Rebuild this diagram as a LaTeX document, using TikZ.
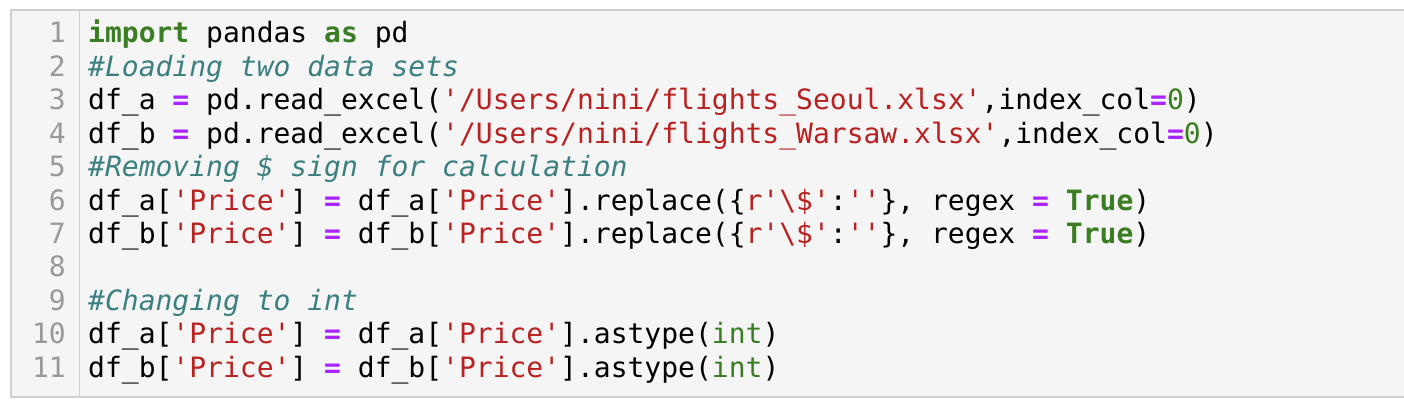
\documentclass[tikz,border=0pt]{standalone}
\usepackage{fontspec}
\setmonofont{DejaVu Sans Mono}
\definecolor{bg}{HTML}{F5F5F5}
\definecolor{bd}{HTML}{CFCFCF}
\definecolor{kw}{HTML}{3A7D22}
\definecolor{cm}{HTML}{3B7F7F}
\definecolor{st}{HTML}{BA2121}
\definecolor{op}{HTML}{AA22FF}
\definecolor{ln}{HTML}{999999}
\newcommand{\K}[1]{\textcolor{kw}{\bfseries #1}}
\newcommand{\C}[1]{\textcolor{cm}{\itshape #1}}
\newcommand{\St}[1]{\textcolor{st}{#1}}
\newcommand{\N}[1]{\textcolor{kw}{#1}}
\newcommand{\Eq}{\textcolor{op}{\bfseries =}}
\newcommand{\qq}{\char"27}
\begin{document}
\begin{tikzpicture}[x=1pt,y=-1pt,
  code/.style={anchor=base west,inner sep=0pt,font=\ttfamily\fontsize{28}{28}\selectfont},
  lnum/.style={anchor=base east,inner sep=0pt,text=ln,font=\ttfamily\fontsize{28}{28}\selectfont}]
\useasboundingbox (0,0) rectangle (1404,404);
\fill[bg] (11,10) rectangle (1404,397);
\draw[bd,line width=1.2pt] (1404,10) -- (11,10) -- (11,397) -- (1404,397);
\draw[bd,line width=1pt] (79,10) -- (79,397);
\foreach \i in {1,...,11}{
  \node[lnum] (n\i) at (66,{43+33.4*(\i-1)}) {\i};
}
\node[code] (l1) at (88,43) {\K{import} pandas \K{as} pd};
\node[code] (l2) at (88,76.4) {\C{\#Loading two data sets}};
\node[code] (l3) at (88,109.8) {df\_a \Eq{} pd.read\_excel(\St{\qq/Users/nini/flights\_Seoul.xlsx\qq},index\_col\Eq\N{0})};
\node[code] (l4) at (88,143.2) {df\_b \Eq{} pd.read\_excel(\St{\qq/Users/nini/flights\_Warsaw.xlsx\qq},index\_col\Eq\N{0})};
\node[code] (l5) at (88,176.6) {\C{\#Removing \$ sign for calculation}};
\node[code] (l6) at (88,210) {df\_a[\St{\qq Price\qq}] \Eq{} df\_a[\St{\qq Price\qq}].replace(\{\St{r\qq\textbackslash\$\qq}:\St{\qq\qq}\}, regex \Eq{} \K{True})};
\node[code] (l7) at (88,243.4) {df\_b[\St{\qq Price\qq}] \Eq{} df\_b[\St{\qq Price\qq}].replace(\{\St{r\qq\textbackslash\$\qq}:\St{\qq\qq}\}, regex \Eq{} \K{True})};
\node[code] (l9) at (88,310.2) {\C{\#Changing to int}};
\node[code] (l10) at (88,343.6) {df\_a[\St{\qq Price\qq}] \Eq{} df\_a[\St{\qq Price\qq}].astype(\N{int})};
\node[code] (l11) at (88,377) {df\_b[\St{\qq Price\qq}] \Eq{} df\_b[\St{\qq Price\qq}].astype(\N{int})};
\end{tikzpicture}
\end{document}
